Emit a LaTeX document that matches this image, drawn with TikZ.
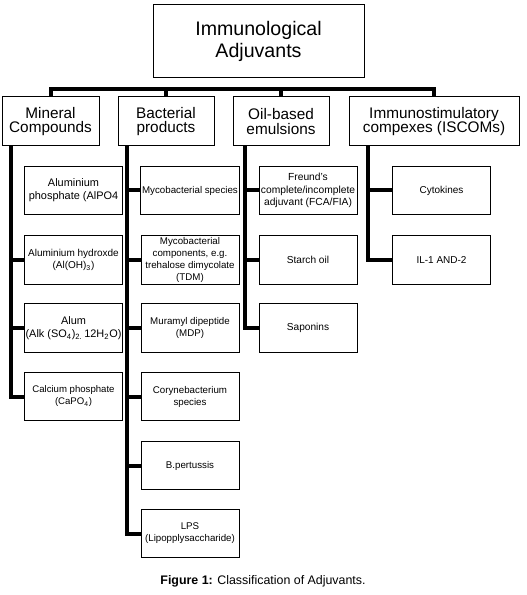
\documentclass[tikz,border=0pt]{standalone}
\usepackage{fontspec}
\setmainfont{Liberation Sans}
\usetikzlibrary{calc}
\lineskiplimit=-10pt

\begin{document}
\begin{tikzpicture}[x=0.75pt, y=-0.75pt,
  box/.style = {draw, line width=0.75pt, align=center, inner sep=1pt},
  leaf/.style = {box, minimum width=73.5pt, minimum height=36.5pt,
    font=\fontsize{7.3}{9}\selectfont},
  group/.style = {box, minimum height=36.75pt,
    font=\fontsize{11.5}{10.7}\selectfont},
  link/.style = {line width=3pt}]
\useasboundingbox (0,0) rectangle (526,595);

% top of the tree
\node [box, minimum width=158.25pt, minimum height=54.75pt,
  font=\fontsize{14.7}{16.3}\selectfont] (root) at (258.5,41.5) {Immunological\\Adjuvants};

% the four groups
\node [group, minimum width=72.75pt] (mineral) at (50.5,121.5) {Mineral\\Compounds};
\node [group, minimum width=72pt] (bacterial) at (166,121.5) {Bacterial\\products};
\node [group, minimum width=72pt] (oil) at (281,121.5) {Oil-based\\emulsions};
\node [group, minimum width=127.5pt] (iscom) at (434,121.5) {Immunostimulatory\\compexes (ISCOMs)};

% mineral compounds
\node [leaf, font=\fontsize{8.2}{9.8}\selectfont] (alpo) at (73.5,190.5) {Aluminium\\phosphate (AlPO4};
\node [leaf, font=\fontsize{7.5}{9.2}\selectfont] (alhyd) at (73.5,260) {Aluminium hydroxde\\(Al(OH)\textsubscript{3})};
\node [leaf, font=\fontsize{8.2}{10}\selectfont] (alum) at (73.5,328)
  {Alum\\(Alk (SO\textsubscript{4})\textsubscript{2.}\,12H\textsubscript{2}O)};
\node [leaf, font=\fontsize{7.2}{9}\selectfont] (capo) at (73.5,396.5) {Calcium phosphate\\(CaPO\textsubscript{4})};

% bacterial products
\node [leaf] (myco) at (190,190.5) {Mycobacterial species};
\node [leaf] (tdm) at (190,260) {Mycobacterial\\components, e.g.\\trehalose dimycolate\\(TDM)};
\node [leaf] (mdp) at (190,328) {Muramyl dipeptide\\(MDP)};
\node [leaf] (coryne) at (190,396.5) {Corynebacterium\\species};
\node [leaf] (pertussis) at (190,465.5) {B.pertussis};
\node [leaf] (lps) at (190,533.5) {LPS\\(Lipopplysaccharide)};

% oil-based emulsions
\node [leaf, font=\fontsize{7.7}{9.3}\selectfont] (freund) at (308,190.5) {Freund's\\complete/incomplete\\adjuvant (FCA/FIA)};
\node [leaf, font=\fontsize{7.6}{9}\selectfont] (starch) at (308,260) {Starch oil};
\node [leaf, font=\fontsize{7.6}{9}\selectfont] (saponin) at (308,328) {Saponins};

% ISCOMs
\node [leaf, font=\fontsize{7.5}{9}\selectfont] (cyto) at (441.5,190.5) {Cytokines};
\node [leaf, font=\fontsize{7.5}{9}\selectfont] (il) at (441.5,260) {IL-1 AND-2};

% bus under the top box
\coordinate (bus) at (0,89);
\draw [link] (mineral.north) -- (mineral.north |- bus) -| (iscom.north);
\foreach \g in {bacterial, oil}
  \draw [link] (\g.north) -- (\g.north |- bus);

% trunks down each column
\foreach \g/\dx/\kids in {mineral/9/{alhyd,alum,capo},
    bacterial/9/{myco,tdm,mdp,coryne,pertussis,lps},
    oil/12/{freund,starch,saponin}, iscom/19/{cyto,il}}
  \foreach \k in \kids
    \draw [link] ($(\g.south west)+(\dx,0)$) |- (\k.west);

% caption
\node [font=\fontsize{9.3}{11}\selectfont] (caption) at (263,581)
  {\textbf{Figure 1:} Classification of Adjuvants.};
\end{tikzpicture}
\end{document}
